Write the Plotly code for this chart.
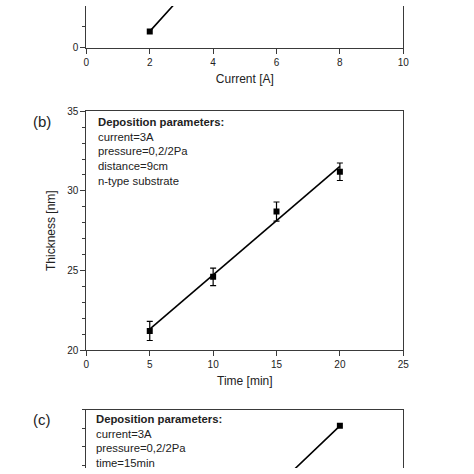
import numpy as np
import plotly.graph_objects as go

# panel (a): thickness vs current (only the bottom of the panel is in view)
current_a = [2, 3, 4, 5]
thick_a = [7.8, 24.6, 41.0, 57.5]

# panel (b): thickness vs deposition time
time_b = [5, 10, 15, 20]
thick_b = [21.2, 24.6, 28.7, 31.2]
err_b = [0.6, 0.55, 0.6, 0.55]

# panel (c): only the top of the panel is in view
x_c = [5, 10, 15, 20]
thick_c = [29.3, 32.6, 35.85, 39.12]

params_b = ['<b>Deposition parameters:</b>', 'current=3A', 'pressure=0,2/2Pa',
            'distance=9cm', 'n-type substrate']
params_c = ['<b>Deposition parameters:</b>', 'current=3A', 'pressure=0,2/2Pa',
            'time=15min']

W = H = 474
AX = '#3a3a3a'
TXT = '#222222'
FONT = 'Liberation Sans, Arial, sans-serif'


def py(px):
    # pixel row -> paper coordinate
    return 1 - px / H


def px_x(px):
    return px / W


dom_x = [px_x(85), px_x(408)]

fig = go.Figure()

# (a)
fig.add_trace(go.Scatter(x=current_a, y=thick_a, mode='lines+markers',
                         line=dict(color='black', width=1.6),
                         marker=dict(symbol='square', size=6, color='black'),
                         xaxis='x', yaxis='y', cliponaxis=True))

# (b) points with error bars + linear fit
fit = np.polyfit(time_b, thick_b, 1)
fit_x = [time_b[0], time_b[-1]]
fit_y = list(np.polyval(fit, fit_x))
fig.add_trace(go.Scatter(x=fit_x, y=fit_y, mode='lines',
                         line=dict(color='black', width=1.6),
                         xaxis='x2', yaxis='y2'))
fig.add_trace(go.Scatter(x=time_b, y=thick_b, mode='markers',
                         marker=dict(symbol='square', size=6, color='black'),
                         error_y=dict(type='data', array=err_b, color='black',
                                      thickness=1.2, width=3),
                         xaxis='x2', yaxis='y2'))

# (c)
fig.add_trace(go.Scatter(x=x_c, y=thick_c, mode='lines+markers',
                         line=dict(color='black', width=1.6),
                         marker=dict(symbol='square', size=6, color='black'),
                         xaxis='x3', yaxis='y3'))

tickfont = dict(family=FONT, size=10, color=TXT)
common = dict(showline=True, linecolor=AX, linewidth=1.2, ticks='outside',
              tickcolor=AX, tickwidth=1, ticklen=5, showgrid=False,
              zeroline=False, tickfont=tickfont)

fig.update_layout(
    width=W, height=H, margin=dict(l=0, r=0, t=0, b=0),
    paper_bgcolor='white', plot_bgcolor='white', showlegend=False,
    font=dict(family=FONT, color=TXT),
    xaxis=dict(domain=dom_x, anchor='y', range=[0, 10], dtick=2,
               title=dict(text='Current [A]', font=dict(size=12), standoff=7),
               **common),
    yaxis=dict(domain=[py(43), 1], anchor='x', range=[0, 19.8], dtick=40,
               mirror=True, minor=dict(dtick=10, ticklen=3, tickcolor=AX,
                                       ticks='outside'),
               **common),
    xaxis2=dict(domain=dom_x, anchor='y2', range=[0, 25], dtick=5, mirror=True,
                title=dict(text='Time [min]', font=dict(size=12), standoff=7),
                **common),
    yaxis2=dict(domain=[py(353), py(108)], anchor='x2', range=[20, 35], dtick=5,
                mirror=True, minor=dict(dtick=1, ticklen=3, tickcolor=AX,
                                        ticks='outside'),
                title=dict(text='Thickness [nm]', font=dict(size=12), standoff=8),
                **common),
    xaxis3=dict(domain=dom_x, anchor='y3', range=[0, 25], side='top',
                showline=True, linecolor=AX, linewidth=1.2, ticks='',
                showticklabels=False, showgrid=False, zeroline=False),
    yaxis3=dict(domain=[0, py(414)], anchor='x3', range=[40 - 60 / 19, 40],
                mirror=True, dtick=1, showticklabels=False, ticks='outside',
                ticklen=3, tickcolor=AX, showline=True, linecolor=AX,
                linewidth=1.2, showgrid=False, zeroline=False),
)

# panel letters
fig.add_annotation(text='(b)', x=px_x(40), y=py(118), xref='paper', yref='paper',
                   xanchor='center', yanchor='middle',
                   showarrow=False, font=dict(size=15, color=TXT))
fig.add_annotation(text='(c)', x=px_x(40), y=py(424), xref='paper', yref='paper',
                   xanchor='center', yanchor='middle',
                   showarrow=False, font=dict(size=15, color=TXT))

# parameter boxes
fig.add_annotation(text='<br>'.join(params_b), x=px_x(95), y=py(111),
                   xref='paper', yref='paper', xanchor='left', yanchor='top',
                   align='left', showarrow=False, font=dict(size=11.3, color=TXT))
fig.add_annotation(text='<br>'.join(params_c), x=px_x(93), y=py(416),
                   xref='paper', yref='paper', xanchor='left', yanchor='top',
                   align='left', showarrow=False, font=dict(size=11.3, color=TXT))

# no page margin / scrollbars so the 474px figure fills the window exactly
fig.write_html("out.html", config={'displayModeBar': False},
               post_script="document.body.style.margin='0';"
                           "document.documentElement.style.overflow='hidden';"
                           "document.body.style.overflow='hidden';")
